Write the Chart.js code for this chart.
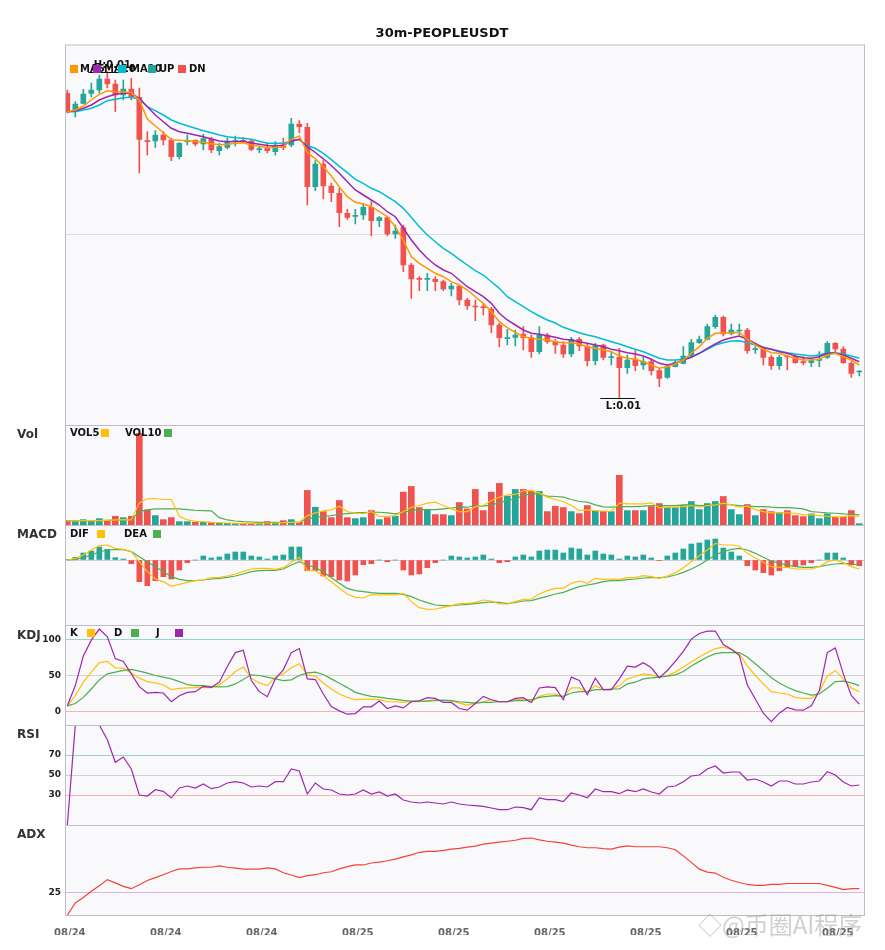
<!DOCTYPE html>
<html>
<head>
<meta charset="utf-8">
<script src="https://cdn.jsdelivr.net/npm/chart.js@4.4.1/dist/chart.umd.min.js"></script>
<style>
  body { margin: 0; background: #fff; width: 885px; height: 950px; overflow: hidden; position: relative; }
  canvas { position: absolute; left: 0; }
  #wm { position: absolute; left: 698px; top: 906px; font: 24px "Noto Sans CJK SC", sans-serif; color: rgba(150,150,150,0.45); white-space: nowrap; }
</style>
</head>
<body>
<canvas id="cMain" width="885" height="435" style="top:0px"></canvas>
<canvas id="cVol" width="885" height="120" style="top:415px"></canvas>
<canvas id="cMacd" width="885" height="120" style="top:515px"></canvas>
<canvas id="cKdj" width="885" height="120" style="top:615px"></canvas>
<canvas id="cRsi" width="885" height="120" style="top:715px"></canvas>
<canvas id="cAdx" width="885" height="135" style="top:815px"></canvas>
<div id="wm">◇@币圈AI程序</div>
<script>
// 30m candles, oldest first
const open = [0.013317,0.013133,0.013217,0.013317,0.01335,0.01346,0.01341,0.0133,0.01336,0.013277,
0.01284,0.01284,0.0129,0.01285,0.012683,0.012833,0.01285,0.01281,0.01286,0.012743,
0.012777,0.012833,0.012843,0.01284,0.012753,0.012777,0.012733,0.0128,0.0128,0.01301,
0.012977,0.012383,0.01261,0.01239,0.012317,0.012117,0.012087,0.0121,0.012177,0.012043,
0.012073,0.01191,0.011973,0.0116,0.011463,0.011457,0.011457,0.011433,0.01136,0.01139,
0.01125,0.011187,0.01118,0.01116,0.011,0.010863,0.010877,0.01091,0.010873,0.010733,
0.0109,0.010833,0.0108,0.01071,0.010857,0.010783,0.010643,0.0108,0.010673,0.010677,
0.010573,0.01066,0.0106,0.010633,0.010543,0.010477,0.010583,0.010617,0.01069,0.010823,
0.010857,0.010983,0.011077,0.010917,0.01094,0.01095,0.010753,0.010757,0.010677,0.010593,
0.010687,0.010683,0.01063,0.010623,0.010647,0.010677,0.010817,0.01076,0.010617,0.01053];
const high = [0.01335,0.013233,0.013357,0.01342,0.0135,0.013533,0.01345,0.01345,0.013467,0.01337,
0.012933,0.012943,0.012933,0.01287,0.012823,0.0129,0.01285,0.01291,0.012877,0.012817,
0.01287,0.01289,0.012873,0.01285,0.01279,0.01282,0.012833,0.01287,0.013067,0.013043,
0.013017,0.012643,0.012643,0.012417,0.012367,0.012157,0.012157,0.012217,0.012233,0.012083,
0.01209,0.012,0.012,0.011617,0.011483,0.011517,0.011483,0.01145,0.011417,0.0114,
0.011267,0.01125,0.011217,0.011177,0.011017,0.010957,0.01095,0.010983,0.0109,0.010983,
0.010917,0.010857,0.010833,0.010877,0.010877,0.010817,0.010817,0.01081,0.010733,0.010767,
0.0107,0.010743,0.010677,0.01065,0.010567,0.0106,0.010643,0.010783,0.010857,0.01089,
0.01101,0.0111,0.01109,0.01101,0.01101,0.010967,0.010783,0.010783,0.0107,0.0107,
0.0107,0.0107,0.010683,0.010667,0.010733,0.010833,0.010823,0.010783,0.010633,0.010543];
const low = [0.01312,0.01308,0.01321,0.01328,0.01332,0.01337,0.013133,0.01325,0.01325,0.01252,
0.0127,0.012777,0.0128,0.012643,0.01266,0.0128,0.01279,0.01275,0.012723,0.0127,
0.01276,0.01279,0.01282,0.012743,0.012723,0.01272,0.0127,0.01275,0.012783,0.01292,
0.0122,0.012343,0.01226,0.012233,0.011983,0.012057,0.01201,0.012057,0.01189,0.011983,
0.01189,0.011867,0.011533,0.011267,0.011343,0.011343,0.011343,0.011343,0.01129,0.0112,
0.011157,0.011043,0.0111,0.010923,0.010783,0.0108,0.01079,0.01075,0.010677,0.01071,
0.010817,0.010717,0.010677,0.010683,0.010743,0.01059,0.0106,0.01065,0.0106,0.010267,
0.010517,0.010543,0.010557,0.0105,0.010383,0.010467,0.01058,0.01061,0.010677,0.010817,
0.01085,0.010967,0.01089,0.0109,0.0109,0.010717,0.010717,0.0106,0.010557,0.010557,
0.01055,0.010617,0.0106,0.010583,0.010583,0.010667,0.010733,0.010617,0.010477,0.01049];
const close = [0.013133,0.01321,0.01331,0.01335,0.01346,0.01341,0.0133,0.01336,0.013283,0.012857,
0.012833,0.0129,0.01285,0.012683,0.012817,0.01284,0.01281,0.012863,0.01275,0.012783,
0.01284,0.01284,0.012837,0.012757,0.01276,0.012743,0.0128,0.012777,0.01301,0.012983,
0.012383,0.01261,0.01239,0.012323,0.012123,0.012077,0.012097,0.012177,0.012043,0.012073,
0.01191,0.01194,0.0116,0.01146,0.011457,0.011463,0.011433,0.01136,0.01139,0.01125,
0.011193,0.01118,0.011173,0.011,0.010873,0.01087,0.0109,0.010873,0.010733,0.0109,
0.010833,0.0108,0.01071,0.010857,0.01079,0.010643,0.010793,0.010677,0.01068,0.010573,
0.01065,0.010593,0.010633,0.010543,0.010467,0.010583,0.010623,0.01069,0.010823,0.010857,
0.010983,0.011077,0.01091,0.01095,0.010947,0.010743,0.01076,0.010677,0.010593,0.010677,
0.01068,0.010623,0.010623,0.01065,0.010653,0.010817,0.01076,0.010623,0.010517,0.010537];

const ma5 = [0.013133,0.01315,0.01319,0.01325,0.013307,0.013343,0.013333,0.01333,0.013323,0.01325,
0.01306,0.01299,0.012925,0.012853,0.012847,0.012845,0.012837,0.012828,0.012813,0.012802,
0.012808,0.012817,0.012823,0.0128,0.012787,0.012773,0.012777,0.012783,0.012857,0.01289,
0.012725,0.012662,0.012583,0.01249,0.01238,0.012283,0.012227,0.01221,0.012183,0.012133,
0.012083,0.011983,0.01185,0.011683,0.011617,0.011567,0.011517,0.011483,0.011433,0.0114,
0.01135,0.011283,0.011217,0.011133,0.011033,0.010973,0.010927,0.010883,0.010867,0.010857,
0.01085,0.010833,0.010823,0.010823,0.01081,0.010783,0.010767,0.01075,0.010733,0.01069,
0.010667,0.010657,0.010633,0.0106,0.010567,0.010583,0.01061,0.01065,0.010717,0.010783,
0.010867,0.010917,0.010923,0.010923,0.010927,0.010857,0.0108,0.010757,0.010723,0.010717,
0.01069,0.010667,0.01065,0.01065,0.010657,0.0107,0.010717,0.010683,0.01065,0.0106];
const ma10 = [0.013133,0.013143,0.013167,0.0132,0.01325,0.013283,0.013307,0.013317,0.013317,0.013267,
0.013183,0.0131,0.013033,0.012967,0.012933,0.012917,0.0129,0.012883,0.01286,0.01284,
0.012833,0.012835,0.012837,0.01282,0.012808,0.012795,0.01279,0.012797,0.01284,0.012857,
0.012783,0.012725,0.012662,0.012595,0.012517,0.012433,0.01235,0.0123,0.01225,0.0122,
0.012133,0.012083,0.011967,0.01185,0.01175,0.011667,0.0116,0.01155,0.011517,0.01145,
0.011383,0.011333,0.011283,0.011217,0.011117,0.01105,0.011,0.01095,0.010917,0.010907,
0.010893,0.010877,0.010857,0.01085,0.010833,0.010817,0.0108,0.010783,0.010757,0.010743,
0.010723,0.01071,0.01069,0.010657,0.010617,0.0106,0.010617,0.01065,0.010677,0.010717,
0.010767,0.01081,0.01085,0.010873,0.01089,0.010857,0.010817,0.010773,0.010757,0.010733,
0.010717,0.01069,0.010673,0.010667,0.010683,0.010717,0.010717,0.0107,0.010667,0.010633];
const ma20 = [0.013133,0.013133,0.01315,0.013167,0.0132,0.013243,0.013257,0.013273,0.013277,0.013257,
0.013183,0.013143,0.0131,0.01305,0.013017,0.012993,0.012967,0.012943,0.012923,0.0129,
0.012883,0.012873,0.012867,0.012857,0.012838,0.012817,0.012817,0.012817,0.012837,0.012857,
0.012792,0.012767,0.012717,0.012654,0.012587,0.012523,0.012457,0.012417,0.012367,0.012333,
0.012283,0.012233,0.012167,0.012077,0.011983,0.0119,0.011833,0.011767,0.011717,0.011657,
0.0116,0.011543,0.0115,0.011433,0.011367,0.011283,0.011233,0.011183,0.011133,0.01109,
0.01105,0.01102,0.010977,0.01095,0.010923,0.0109,0.010883,0.010857,0.010833,0.01081,
0.010783,0.010757,0.010733,0.0107,0.010667,0.01065,0.01065,0.010657,0.010683,0.010717,
0.010757,0.0108,0.010823,0.01084,0.010843,0.010823,0.0108,0.010777,0.010757,0.01074,
0.010723,0.01071,0.0107,0.01069,0.0107,0.010723,0.010723,0.01071,0.01069,0.010667];

// volume in 10k units
const volume = [13,11,16,13,19,13,26,22,26,273, 45,28,16,22,10,10,8,8,8,5, 5,5,5,5,4,10,7,13,16,8,
103,53,40,22,73,22,19,22,43,16, 22,26,98,115,52,45,31,31,28,67, 48,106,43,98,124,86,106,106,101,100,
40,56,52,40,34,58,43,41,40,148, 43,43,43,55,64,52,52,58,70,46, 64,70,85,46,31,61,28,46,40,37,
43,28,25,33,19,33,23,23,43,4];
const vol5 = [12,12,13,13,13,14,15,16,15,66, 78,79,76,76,26,15,11,10,8,7, 6,5,5,5,4,6,6,7,8,8,
28,36,42,45,56,40,35,34,40,26, 26,28,40,53,58,65,68,58,48,40, 40,55,58,73,83,90,91,102,103,95,
83,76,70,58,43,45,43,41,41,65, 63,63,63,66,51,53,53,55,58,53, 58,60,65,60,53,56,46,40,36,36,
36,35,30,30,28,26,24,25,28,26];
const vol10 = [13,13,13,13,13,14,15,15,16,40, 45,48,48,48,48,46,44,43,42,22, 15,12,10,9,8,8,8,8,8,8,
18,22,26,28,32,34,36,37,38,38, 36,33,38,43,46,46,46,48,50,54, 53,58,56,60,66,73,78,88,93,93,
86,85,83,76,70,68,60,54,53,55, 55,55,56,58,58,58,58,60,61,58, 58,60,62,60,58,56,55,55,53,52,
52,50,48,40,38,36,35,33,32,30];

// MACD (x1e-7)
const macdHist = [1,8,21,27,39,32,7,3,-11,-65, -77,-62,-50,-57,-30,-8,0,12,6,9, 18,24,24,12,9,3,12,15,39,39,
-32,-32,-48,-50,-60,-63,-45,-14,-11,0, -5,0,-30,-45,-42,-23,-8,0,12,9, 6,9,15,3,-8,-5,9,15,9,27,
30,30,21,36,33,15,27,18,15,3, 12,9,15,6,-2,12,21,33,48,51, 60,63,36,24,12,-17,-30,-38,-45,-32,
-23,-20,-15,-8,0,21,21,6,-15,-17];
const dif = [0,5,15,30,43,45,35,32,25,-5, -35,-57,-65,-79,-73,-67,-62,-60,-53,-52, -48,-42,-35,-27,-25,-25,-28,-23,-7,8,
-32,-32,-47,-65,-85,-102,-112,-114,-103,-105, -103,-105,-100,-125,-143,-148,-147,-142,-137,-131,
-130,-127,-120,-123,-132,-132,-125,-118,-117,-102, -92,-85,-85,-70,-63,-70,-55,-58,-57,-58,
-53,-53,-47,-50,-55,-48,-38,-23,-5,13, 30,50,45,45,42,20,7,-7,-20,-22, -22,-27,-27,-27,-20,-5,0,-8,-20,-27];
const dea = [0,2,7,15,24,30,32,31,25,10, -5,-20,-35,-50,-58,-62,-62,-60,-57,-55, -52,-48,-42,-35,-32,-31,-31,-27,-15,-5,
-15,-23,-35,-53,-70,-85,-92,-95,-98,-100, -100,-100,-103,-110,-120,-128,-135,-137,-137,-135,
-133,-131,-128,-126,-127,-131,-127,-123,-122,-115, -109,-102,-97,-88,-80,-75,-71,-65,-62,-62,
-59,-57,-54,-53,-53,-51,-45,-37,-27,-15, 0,15,25,32,35,30,20,8,-3,-10, -15,-20,-22,-22,-20,-15,-12,-10,-12,-15];

const kLine = [7.9,22.0,40.7,54.7,67.8,69.6,60.7,60.3,53.3,46.3, 41.6,39.7,36.9,30.4,32.2,32.7,33.2,33.6,33.2,36.9,
45.3,55.6,61.7,46.3,39.7,36.0,47.7,52.3,60.7,66.4, 50.9,49.1,39.7,31.3,24.3,19.6,16.4,17.3,17.3,16.4,
13.6,13.6,12.6,13.6,13.6,15.0,16.4,15.0,15.0,11.7, 8.9,11.7,13.6,16.4,13.6,13.6,16.4,16.4,13.6,21.0,
24.3,24.3,20.0,32.7,32.7,26.6,36.0,30.4,30.4,36.0, 45.3,48.6,52.3,50.9,47.7,50.0,54.7,61.7,68.7,75.7,
81.8,87.4,89.3,86.4,80.4,63.1,50.0,38.3,27.6,25.7, 24.3,19.6,18.2,18.2,27.6,49.1,57.0,45.3,32.7,27.6];
const dLine = [7.9,11.2,19.6,31.3,43.9,52.3,54.7,57.0,58.4,56.1, 53.3,50.0,47.7,45.3,41.6,37.4,36.0,36.0,34.6,34.1,
34.6,38.3,44.4,50.9,50.0,47.7,45.3,43.0,43.9,50.0, 53.7,54.7,51.4,45.3,39.3,33.2,26.6,23.4,21.0,20.1,
18.2,16.8,15.4,14.5,14.5,14.5,15.0,15.9,15.0,13.6, 12.6,11.7,12.6,12.6,13.6,13.6,15.0,15.0,16.4,19.6,
21.0,22.0,21.0,25.7,27.6,27.6,30.4,30.4,31.3,31.3, 38.3,40.7,45.3,46.7,47.7,49.1,50.9,55.6,63.1,69.6,
75.7,80.4,81.8,81.8,81.8,75.7,66.4,57.0,46.7,39.7, 33.6,29.0,25.7,22.9,24.3,32.2,41.6,42.1,39.7,36.0];
const jLine = [7.9,36.0,77.1,99.1,114.5,103.7,73.4,69.6,52.3,34.6, 25.7,26.6,25.7,13.6,22.0,26.6,27.6,35.0,33.6,40.7,
62.6,81.8,85.0,43.0,27.6,20.6,45.3,57.9,81.8,87.4, 45.3,44.4,24.3,7.0,0.9,-3.7,-2.8,6.5,6.5,14.5,
4.2,7.9,5.1,13.6,15.0,19.2,18.2,12.6,12.6,4.2, 1.9,11.2,21.0,16.4,13.6,13.6,18.2,19.2,12.6,32.7,
34.1,33.2,16.4,47.7,43.0,23.4,46.3,30.4,30.4,45.3, 63.1,61.7,67.8,60.7,46.7,57.0,69.6,83.6,100.5,108.4,
111.7,111.7,93.0,86.4,78.0,36.9,17.3,-2.3,-14.0,-2.3, 5.6,2.3,1.9,7.9,29.0,81.8,88.3,52.3,22.0,10.3];

const rsi = [0,100,100,100,100,85.3,62.7,68,56,30, 29,35.3,33.7,27,37,39,37,41,36.3,38,
42,43.3,42,38,39,38,43.3,43.3,56,54, 31,42,36,35,31,30,31,35,31,33,
29,31,25,23,22,23,22,21,23,21, 20,19.3,18.7,17,15.3,15.3,18,17.3,15.3,27,
25.3,25.3,23.3,32,30,27.3,36,33.3,33.3,31.3, 35,33.3,36,33,31,38,39,43.3,49,50,
56,59,52,53,53,45,46,43,39,44, 44,41,41,43,44,53.3,50,43,39,40];

const adx = [18.0,21.7,23.4,25.3,27.0,28.9,27.9,26.8,26.1,27.3, 28.6,29.5,30.4,31.4,32.2,32.2,32.5,32.7,32.7,33.1,
32.7,32.4,32.1,32.1,32.1,32.5,32.2,31.0,30.3,29.5, 30.1,30.4,31.0,31.3,32.2,32.9,33.4,33.4,34.0,34.3,
34.7,35.2,35.9,36.5,37.3,37.6,37.6,37.9,38.3,38.5, 38.9,39.2,39.8,40.1,40.4,40.7,41.0,41.6,41.7,41.1,
40.7,40.4,40.1,39.5,39.0,38.7,38.7,38.4,38.3,38.9, 39.3,39.0,39.0,39.0,39.0,38.7,38.1,36.2,34.2,32.1,
31.2,30.9,29.6,28.7,28.0,27.4,27.1,27.1,27.4,27.4, 27.7,27.7,27.7,27.7,27.7,27.1,26.5,25.8,26.1,26.1];

const xTickIndex = [0,12,24,36,48,60,72,84,96];
const xTickLabels = ['08/24','08/24','08/24','08/25','08/25','08/25','08/25','08/25','08/25'];

const UP = '#26a69a', DN = '#ef5350';
const C_MA5 = '#ff9800', C_MA10 = '#9c27b0', C_MA20 = '#00bcd4';
const C_Y = '#ffc107', C_G = '#4caf50', C_P = '#9c27b0';

Chart.defaults.font.family = '"DejaVu Sans", sans-serif';

const isUp = i => close[i] >= open[i];
const pts = arr => arr.map((v, i) => ({ x: i, y: v }));
const rng = (a, b) => a.map((v, i) => ({ x: i, y: [v, b[i]] }));

function line(data, color, order, width) {
  return { type: 'line', data: pts(data), borderColor: color, borderWidth: width || 1.2, pointRadius: 0, tension: 0, order: order };
}

// plot background + frame
const framePlugin = {
  id: 'frame',
  beforeDraw(chart) {
    const { ctx, chartArea: a } = chart;
    ctx.save();
    ctx.fillStyle = '#f9f9fb';
    ctx.fillRect(a.left, a.top, a.right - a.left, a.bottom - a.top);
    ctx.restore();
  },
  afterDraw(chart) {
    const { ctx, chartArea: a } = chart;
    ctx.save();
    ctx.strokeStyle = '#bdbdc6';
    ctx.lineWidth = 1;
    ctx.strokeRect(a.left + 0.5, a.top + 0.5, a.right - a.left - 1, a.bottom - a.top);
    ctx.restore();
  }
};

// texts and legend swatches, page coordinates
function overlay(top, ops) {
  return {
    id: 'overlay',
    afterDraw(chart) {
      const ctx = chart.ctx;
      ctx.save();
      ops.forEach(op => {
        if (op.box) {
          ctx.fillStyle = op.box;
          ctx.fillRect(op.x, op.y - top - 4, 8, 8);
        } else {
          ctx.font = op.font || 'bold 10px "DejaVu Sans"';
          ctx.fillStyle = op.color || '#111';
          ctx.textAlign = op.align || 'left';
          ctx.textBaseline = 'middle';
          ctx.fillText(op.text, op.x, op.y - top);
        }
      });
      ctx.restore();
    }
  };
}

const panelFont = 'bold 12px "DejaVu Sans"';

// high / low markers on the price panel
const hlPlugin = {
  id: 'hl',
  afterDatasetsDraw(chart) {
    const { ctx, scales: { x, y } } = chart;
    let hi = 0, lo = 0;
    high.forEach((v, i) => { if (v > high[hi]) hi = i; });
    low.forEach((v, i) => { if (v < low[lo]) lo = i; });
    ctx.save();
    ctx.strokeStyle = '#111';
    ctx.lineWidth = 1;
    ctx.fillStyle = '#111';
    ctx.font = 'bold 10px "DejaVu Sans"';
    ctx.textAlign = 'center';
    const hx = x.getPixelForValue(hi), hy = Math.round(y.getPixelForValue(high[hi])) + 0.5;
    ctx.beginPath(); ctx.moveTo(hx - 19, hy); ctx.lineTo(hx + 12, hy); ctx.stroke();
    ctx.textBaseline = 'bottom';
    ctx.fillText('H:' + high[hi].toFixed(2), hx + 5, hy - 2);
    const lx = x.getPixelForValue(lo), ly = Math.round(y.getPixelForValue(low[lo])) + 0.5;
    ctx.beginPath(); ctx.moveTo(lx - 19, ly); ctx.lineTo(lx + 16, ly); ctx.stroke();
    ctx.textBaseline = 'top';
    ctx.fillText('L:' + low[lo].toFixed(2), lx + 4, ly + 3);
    ctx.restore();
  }
};

function xAxis(show) {
  return {
    type: 'linear', min: -0.29, max: 99.71, offset: false, display: show,
    grid: { display: false }, border: { display: false },
    afterBuildTicks(s) { s.ticks = xTickIndex.map(v => ({ value: v })); },
    afterFit(s) { if (show) s.height = 20; },
    ticks: {
      padding: 4, labelOffset: 2.5, color: '#666', font: { size: 10, weight: 'bold' }, maxRotation: 0, autoSkip: false,
      callback(v) { const k = xTickIndex.indexOf(v); return k < 0 ? '' : xTickLabels[k]; }
    }
  };
}

function yAxis(min, max, tickVals, showLabels, gridColor) {
  return {
    min: min, max: max,
    afterFit(s) { s.width = 65; },
    afterBuildTicks(s) { s.ticks = tickVals.map(v => ({ value: v })); },
    border: { display: false },
    grid: { drawTicks: false, color: c => gridColor(c.tick ? c.tick.value : 0), lineWidth: 1 },
    ticks: { display: showLabels, padding: 4, color: '#222', font: { size: 9, weight: 'bold' } }
  };
}

function opts(y, padTop, padBottom, showX) {
  return {
    responsive: false, animation: false, events: [],
    layout: { padding: { left: 0, right: 20, top: padTop, bottom: padBottom } },
    plugins: { legend: { display: false }, tooltip: { enabled: false } },
    scales: { x: xAxis(showX), y: y }
  };
}

const candleColor = c => isUp(c.dataIndex) ? UP : DN;

// price panel
new Chart(document.getElementById('cMain'), {
  type: 'bar',
  data: {
    datasets: [
      line(ma5, C_MA5, 1, 1.5), line(ma10, C_MA10, 1, 1.5), line(ma20, C_MA20, 1, 1.5),
      { data: rng(low, high), backgroundColor: candleColor, barThickness: 1, grouped: false, order: 3 },
      { data: rng(open, close), backgroundColor: candleColor, barThickness: 5, minBarLength: 1, grouped: false, order: 2 }
    ]
  },
  options: opts(yAxis(0.01, 0.013805, [0.0119], false, () => '#dedee2'), 44.5, 10, false),
  plugins: [framePlugin, hlPlugin, overlay(0, [
    { text: '30m-PEOPLEUSDT', x: 442, y: 34, align: 'center', font: 'bold 13px "DejaVu Sans"' },
    { box: C_MA5, x: 70, y: 69 }, { text: 'MA5', x: 80, y: 69 },
    { box: C_MA10, x: 93, y: 69 }, { text: 'MA10', x: 104, y: 69 },
    { box: C_MA20, x: 118, y: 69 }, { text: 'MA20', x: 130, y: 69 },
    { box: UP, x: 148, y: 69 }, { text: 'UP', x: 159, y: 69 },
    { box: DN, x: 178, y: 69 }, { text: 'DN', x: 189, y: 69 }
  ])]
});

// volume
new Chart(document.getElementById('cVol'), {
  type: 'bar',
  data: {
    datasets: [
      line(vol5, C_Y, 1), line(vol10, C_G, 1),
      { data: pts(volume), backgroundColor: candleColor, barThickness: 6, grouped: false, order: 2 }
    ]
  },
  options: opts(yAxis(0, 298, [], false, () => 'rgba(0,0,0,0)'), 10, 10, false),
  plugins: [framePlugin, overlay(415, [
    { text: 'Vol', x: 17, y: 435, font: panelFont, color: '#333' },
    { text: 'VOL5', x: 70, y: 433 }, { box: C_Y, x: 101, y: 433 },
    { text: 'VOL10', x: 125, y: 433 }, { box: C_G, x: 164, y: 433 }
  ])]
});

// MACD
new Chart(document.getElementById('cMacd'), {
  type: 'bar',
  data: {
    datasets: [
      line(dif, C_Y, 1), line(dea, C_G, 1),
      { data: pts(macdHist), backgroundColor: c => macdHist[c.dataIndex] >= 0 ? UP : DN, barThickness: 5, grouped: false, order: 2 }
    ]
  },
  options: opts(yAxis(-195, 105, [0], false, () => '#cfcfd4'), 10, 10, false),
  plugins: [framePlugin, overlay(515, [
    { text: 'MACD', x: 17, y: 535, font: panelFont, color: '#333' },
    { text: 'DIF', x: 70, y: 534 }, { box: C_Y, x: 97, y: 534 },
    { text: 'DEA', x: 124, y: 534 }, { box: C_G, x: 153, y: 534 }
  ])]
});

// KDJ
new Chart(document.getElementById('cKdj'), {
  type: 'line',
  data: { datasets: [line(jLine, C_P, 1), line(dLine, C_G, 2), line(kLine, C_Y, 3)] },
  options: opts(yAxis(-18.7, 120.1, [0, 50, 100], true,
    v => v === 100 ? '#8fd6cc' : (v === 0 ? '#f5b3b3' : '#cfcfd4')), 10, 10, false),
  plugins: [framePlugin, overlay(615, [
    { text: 'KDJ', x: 17, y: 636, font: panelFont, color: '#333' },
    { text: 'K', x: 70, y: 633 }, { box: C_Y, x: 87, y: 633 },
    { text: 'D', x: 114, y: 633 }, { box: C_G, x: 131, y: 633 },
    { text: 'J', x: 156, y: 633 }, { box: C_P, x: 175, y: 633 }
  ])]
});

// RSI
new Chart(document.getElementById('cRsi'), {
  type: 'line',
  data: { datasets: [line(rsi, C_P, 1)] },
  options: opts(yAxis(0, 100, [30, 50, 70], true,
    v => v === 70 ? '#8fd6cc' : (v === 30 ? '#f5b3b3' : '#cfcfd4')), 10, 10, false),
  plugins: [framePlugin, overlay(715, [
    { text: 'RSI', x: 17, y: 735, font: panelFont, color: '#333' }
  ])]
});

// ADX
new Chart(document.getElementById('cAdx'), {
  type: 'line',
  data: { datasets: [line(adx, '#f44336', 1)] },
  options: opts(yAxis(18, 45.7, [25], true, () => '#dcb3e6'), 10, 15, true),
  plugins: [framePlugin, overlay(815, [
    { text: 'ADX', x: 17, y: 835, font: panelFont, color: '#333' }
  ])]
});
</script>
</body>
</html>
